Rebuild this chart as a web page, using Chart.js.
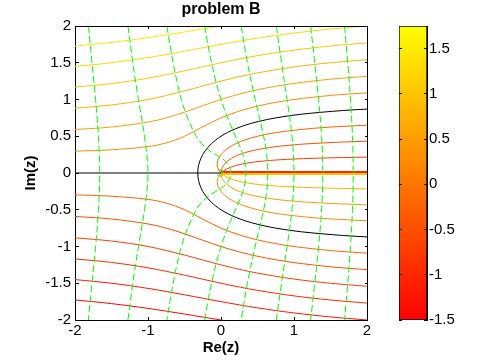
<!DOCTYPE html>
<html><head><meta charset="utf-8">
<script src="https://cdn.jsdelivr.net/npm/chart.js@4/dist/chart.umd.min.js"></script>
<style>
html,body{margin:0;padding:0;background:#fff;}
#wrap{position:relative;width:480px;height:360px;background:#fff;}
canvas{position:absolute;left:0;top:0;}
</style></head><body>
<div id="wrap"><canvas id="main" width="480" height="360"></canvas><canvas id="cbar" width="480" height="360"></canvas></div>
<script>
// ---- axis / colorbar ticks ----
const xTicks = [-2, -1, 0, 1, 2];
const yTicks = [-2, -1.5, -1, -0.5, 0, 0.5, 1, 1.5, 2];
const cbarTicks = [-1.5, -1, -0.5, 0, 0.5, 1, 1.5];
const cbarMin = -1.5, cbarMax = 1.75;

// ---- stream-function contours (x,y pairs), upper half ----
const sP025 = [-2,0.297,-1.5,0.316,-1,0.359,-0.75,0.41,-0.5,0.499,-0.25,0.628,0,0.75,0.25,0.842,0.5,0.91,0.75,0.961,1,1.0,1.5,1.055,2,1.091];
const sP050 = [-2,0.591,-1.5,0.626,-1,0.693,-0.75,0.75,-0.5,0.827,-0.25,0.915,0,1.0,0.25,1.073,0.5,1.133,0.75,1.18,1,1.219,1.5,1.276,2,1.315];
const sP075 = [-2,0.882,-1.5,0.926,-1,1.0,-0.5,1.116,-0.25,1.184,0,1.25,0.25,1.31,0.5,1.362,1,1.443,1.5,1.5,2,1.541];
const sP100 = [-2,1.169,-1.5,1.217,-1,1.29,-0.5,1.39,-0.25,1.445,0,1.5,0.25,1.551,0.5,1.597,1,1.672,1.5,1.728,2,1.77];
const sP125 = [-2,1.45,-1.5,1.5,-1,1.57,-0.5,1.657,-0.25,1.704,0,1.75,0.25,1.794,0.5,1.835,1,1.904,1.5,1.958,2,2.0];
const sP150 = [-2,1.727,-1.5,1.777,-1,1.842,-0.5,1.919,-0.25,1.96,0,2.0,0.25,2.039];
const sN025 = [0,0,-0.0094,0.01,-0.0248,0.03,-0.036,0.05,-0.051,0.1,-0.049,0.15,-0.032,0.2,0,0.25,0.048,0.3,0.114,0.35,0.204,0.4,0.327,0.45,0.5,0.5,0.757,0.55,1.178,0.6,1.591,0.63,2.0,0.65];
const sN050 = [0,0,0.0013,0.02,0.0079,0.05,0.0325,0.1,0.0764,0.15,0.145,0.2,0.25,0.25,0.413,0.3,0.687,0.35,0.96,0.38,1.231,0.4,1.636,0.42,2.0,0.433];
const sN075 = [0,0,0.0107,0.01,0.0363,0.03,0.0688,0.05,0.135,0.08,0.196,0.1,0.328,0.13,0.462,0.15,0.662,0.17,0.805,0.18,0.996,0.19,1.263,0.2,1.662,0.21,2.0,0.2157];
const sN100 = [0,0.012,2,0.012];
// ---- lower half ----
const sN025b = [-2,-0.297,-1.5,-0.316,-1,-0.359,-0.75,-0.41,-0.5,-0.499,-0.25,-0.628,0,-0.75,0.25,-0.842,0.5,-0.91,0.75,-0.961,1,-1.0,1.5,-1.055,2,-1.091];
const sN050b = [-2,-0.591,-1.5,-0.626,-1,-0.693,-0.75,-0.75,-0.5,-0.827,-0.25,-0.915,0,-1.0,0.25,-1.073,0.5,-1.133,0.75,-1.18,1,-1.219,1.5,-1.276,2,-1.315];
const sN075b = [-2,-0.882,-1.5,-0.926,-1,-1.0,-0.5,-1.116,-0.25,-1.184,0,-1.25,0.25,-1.31,0.5,-1.362,1,-1.443,1.5,-1.5,2,-1.541];
const sN100b = [-2,-1.169,-1.5,-1.217,-1,-1.29,-0.5,-1.39,-0.25,-1.445,0,-1.5,0.25,-1.551,0.5,-1.597,1,-1.672,1.5,-1.728,2,-1.77];
const sN125b = [-2,-1.45,-1.5,-1.5,-1,-1.57,-0.5,-1.657,-0.25,-1.704,0,-1.75,0.25,-1.794,0.5,-1.835,1,-1.904,1.5,-1.958,2,-2.0];
const sN150b = [-2,-1.727,-1.5,-1.777,-1,-1.842,-0.5,-1.919,-0.25,-1.96,0,-2.0,0.25,-2.039];
const sP025b = [0,0,-0.0094,-0.01,-0.0248,-0.03,-0.036,-0.05,-0.051,-0.1,-0.049,-0.15,-0.032,-0.2,0,-0.25,0.048,-0.3,0.114,-0.35,0.204,-0.4,0.327,-0.45,0.5,-0.5,0.757,-0.55,1.178,-0.6,1.591,-0.63,2.0,-0.65];
const sP050b = [0,0,0.0013,-0.02,0.0079,-0.05,0.0325,-0.1,0.0764,-0.15,0.145,-0.2,0.25,-0.25,0.413,-0.3,0.687,-0.35,0.96,-0.38,1.231,-0.4,1.636,-0.42,2.0,-0.433];
const sP075b = [0,0,0.0107,-0.01,0.0363,-0.03,0.0688,-0.05,0.135,-0.08,0.196,-0.1,0.328,-0.13,0.462,-0.15,0.662,-0.17,0.805,-0.18,0.996,-0.19,1.263,-0.2,1.662,-0.21,2.0,-0.2157];
const sP100b = [0,-0.012,2,-0.012];
// ---- zero stream line (black) ----
const zAxis = [-2,0,0,0];
const zUpper = [-0.318,0,-0.3157,0.05,-0.308,0.1,-0.2944,0.15,-0.275,0.2,-0.25,0.25,-0.218,0.3,-0.178,0.35,-0.130,0.4,-0.0713,0.45,0,0.5,0.087,0.55,0.195,0.6,0.331,0.65,0.509,0.7,0.75,0.75,1.101,0.8,1.668,0.85,2.009,0.87];
const zLower = [-0.318,0,-0.3157,-0.05,-0.308,-0.1,-0.2944,-0.15,-0.275,-0.2,-0.25,-0.25,-0.218,-0.3,-0.178,-0.35,-0.130,-0.4,-0.0713,-0.45,0,-0.5,0.087,-0.55,0.195,-0.6,0.331,-0.65,0.509,-0.7,0.75,-0.75,1.101,-0.8,1.668,-0.85,2.009,-0.87];
// ---- potential contours (green dashed) ----
const gP200 = [1.693,2,1.736,1.5,1.774,1,1.801,0.5,1.811,0,1.801,-0.5,1.774,-1,1.736,-1.5,1.693,-2];
const gP150 = [1.228,2,1.284,1.5,1.337,1,1.378,0.5,1.3945,0,1.378,-0.5,1.337,-1,1.284,-1.5,1.228,-2];
const gP100 = [0.758,2,0.829,1.5,0.905,1,0.972,0.5,1.0,0,0.972,-0.5,0.905,-1,0.829,-1.5,0.758,-2];
const gP050 = [0.276,2,0.362,1.5,0.468,1,0.527,0.75,0.584,0.5,0.626,0.25,0.641,0,0.626,-0.25,0.584,-0.5,0.527,-0.75,0.468,-1,0.362,-1.5,0.276,-2];
const gZero = [-0.222,2,-0.18,1.75,-0.13,1.5,-0.0715,1.25,0,1,0.09,0.75,0.197,0.5,0.30,0.25,0.342,0,0.30,-0.25,0.197,-0.5,0.09,-0.75,0,-1,-0.0715,-1.25,-0.13,-1.5,-0.18,-1.75,-0.222,-2];
const gN050 = [-0.741,2,-0.70,1.75,-0.656,1.5,-0.604,1.25,-0.543,1,-0.458,0.75,-0.339,0.5,-0.266,0.4,-0.152,0.3,-0.07,0.25,0.012,0.2,0.071,0.15,0.108,0.1,0.128,0.05,0.136,0,0.128,-0.05,0.108,-0.1,0.071,-0.15,0.012,-0.2,-0.07,-0.25,-0.152,-0.3,-0.266,-0.4,-0.339,-0.5,-0.458,-0.75,-0.543,-1,-0.604,-1.25,-0.656,-1.5,-0.70,-1.75,-0.741,-2];
const gN100 = [-1.275,2,-1.208,1.5,-1.131,1,-1.048,0.5,-1.0,0,-1.048,-0.5,-1.131,-1,-1.208,-1.5,-1.275,-2];
const gN100loop = [0.038,0,0.028,0.028,0,0.043,-0.034,0.034,-0.0505,0,-0.034,-0.034,0,-0.043,0.028,-0.028,0.038,0];
const gN150 = [-1.816,2,-1.767,1.5,-1.718,1,-1.679,0.5,-1.661,0,-1.679,-0.5,-1.718,-1,-1.767,-1.5,-1.816,-2];

const streamLines = [
  [sP025,0.25],[sP050,0.5],[sP075,0.75],[sP100,1.0],[sP125,1.25],[sP150,1.5],
  [sN025,-0.25],[sN050,-0.5],[sN075,-0.75],[sN100,-1.0],
  [sN025b,-0.25],[sN050b,-0.5],[sN075b,-0.75],[sN100b,-1.0],[sN125b,-1.25],[sN150b,-1.5],
  [sP025b,0.25],[sP050b,0.5],[sP075b,0.75],[sP100b,1.0]
];
const zeroLines = [zAxis, zUpper, zLower];
const potentialLines = [gP200,gP150,gP100,gP050,gZero,gN050,gN100,gN100loop,gN150];

const FONT = "'Liberation Sans', Arial, Helvetica, sans-serif";
function pts(a){ const out=[]; for(let i=0;i<a.length;i+=2) out.push({x:a[i],y:a[i+1]}); return out; }
function autumn(v){ const t=Math.max(0,Math.min(1,(v-cbarMin)/(cbarMax-cbarMin))); return 'rgb(255,'+Math.round(255*t)+',0)'; }
function lab(v){ return String(v); }

const datasets = [];
streamLines.forEach(([a,v]) => datasets.push({data:pts(a), borderColor:autumn(v), borderWidth:(Math.abs(v)===1 && a.length===4)?2:1, tension:0.35, order:3}));
zeroLines.forEach(a => datasets.push({data:pts(a), borderColor:'#000', borderWidth:1, tension:0.35, order:2}));
potentialLines.forEach(a => datasets.push({data:pts(a), borderColor:'rgb(0,255,0)', borderWidth:1, borderDash:[7,3], tension:0.35, order:1}));

const boxPlugin = {
  id:'boxPlugin',
  afterDraw(chart){
    const {ctx, chartArea:a} = chart;
    ctx.save(); ctx.strokeStyle='#000'; ctx.lineWidth=1; ctx.setLineDash([]);
    ctx.beginPath();
    ctx.moveTo(Math.round(a.left), Math.round(a.top)+0.5);
    ctx.lineTo(Math.round(a.right)+0.5, Math.round(a.top)+0.5);
    ctx.lineTo(Math.round(a.right)+0.5, Math.round(a.bottom));
    ctx.stroke(); ctx.restore();
  }
};

new Chart(document.getElementById('main'), {
  type:'scatter',
  data:{datasets},
  options:{
    responsive:false, animation:false, events:[],
    showLine:true,
    elements:{point:{radius:0}, line:{fill:false}},
    layout:{padding:{left:0,right:113,top:0,bottom:0}},
    plugins:{
      legend:{display:false}, tooltip:{enabled:false},
      title:{display:true, fullSize:false, text:'problem B', color:'#000', font:{family:FONT,size:16,weight:'bold'}, padding:{top:0,bottom:6.8}}
    },
    scales:{
      x:{type:'linear', min:-2, max:2, position:'bottom',
        afterBuildTicks(s){ s.ticks = xTicks.map(v=>({value:v})); },
        afterFit(s){ s.height = 40; },
        ticks:{color:'#000', font:{family:FONT,size:15}, padding:2, maxRotation:0, autoSkip:false, callback:lab},
        grid:{color:'#000', lineWidth:1, drawTicks:false},
        border:{display:true, color:'#000', width:1, dash:[3,288]},
        title:{display:true, text:'Re(z)', color:'#000', font:{family:FONT,size:15,weight:'bold'}, padding:{top:0,bottom:3}}
      },
      y:{type:'linear', min:-2, max:2, position:'left',
        afterBuildTicks(s){ s.ticks = yTicks.map(v=>({value:v})); },
        afterFit(s){ s.width = 75; },
        ticks:{color:'#000', font:{family:FONT,size:15}, padding:4, autoSkip:false, callback:lab},
        grid:{color:'#000', lineWidth:1, drawTicks:false},
        border:{display:true, color:'#000', width:1, dash:[3,286]},
        title:{display:true, text:'Im(z)', color:'#000', font:{family:FONT,size:15,weight:'bold'}, padding:{top:22,bottom:0}}
      }
    }
  },
  plugins:[boxPlugin]
});

new Chart(document.getElementById('cbar'), {
  type:'bar',
  data:{labels:['c'], datasets:[{
    data:[[cbarMin, cbarMax]],
    backgroundColor(ctx){
      const a = ctx.chart.chartArea; if(!a) return 'rgb(255,128,0)';
      const g = ctx.chart.ctx.createLinearGradient(0,a.bottom,0,a.top);
      g.addColorStop(0,'rgb(255,0,0)'); g.addColorStop(1,'rgb(255,255,0)'); return g;
    },
    borderColor:'#000', borderWidth:1, borderSkipped:false,
    barPercentage:1, categoryPercentage:1
  }]},
  options:{
    responsive:false, animation:false, events:[],
    layout:{padding:{left:399,right:0,top:26,bottom:40}},
    plugins:{legend:{display:false}, tooltip:{enabled:false}},
    scales:{
      x:{display:false},
      y:{type:'linear', position:'right', min:cbarMin, max:cbarMax,
        afterBuildTicks(s){ s.ticks = cbarTicks.map(v=>({value:v})); },
        afterFit(s){ s.width = 53; },
        ticks:{color:'#000', font:{family:FONT,size:15}, padding:2, autoSkip:false, callback:lab},
        grid:{color:'#000', lineWidth:1, drawTicks:false, z:1},
        border:{display:true, color:'#000', width:1, dash:[3,22], z:2}
      }
    }
  }
});
</script></body></html>
